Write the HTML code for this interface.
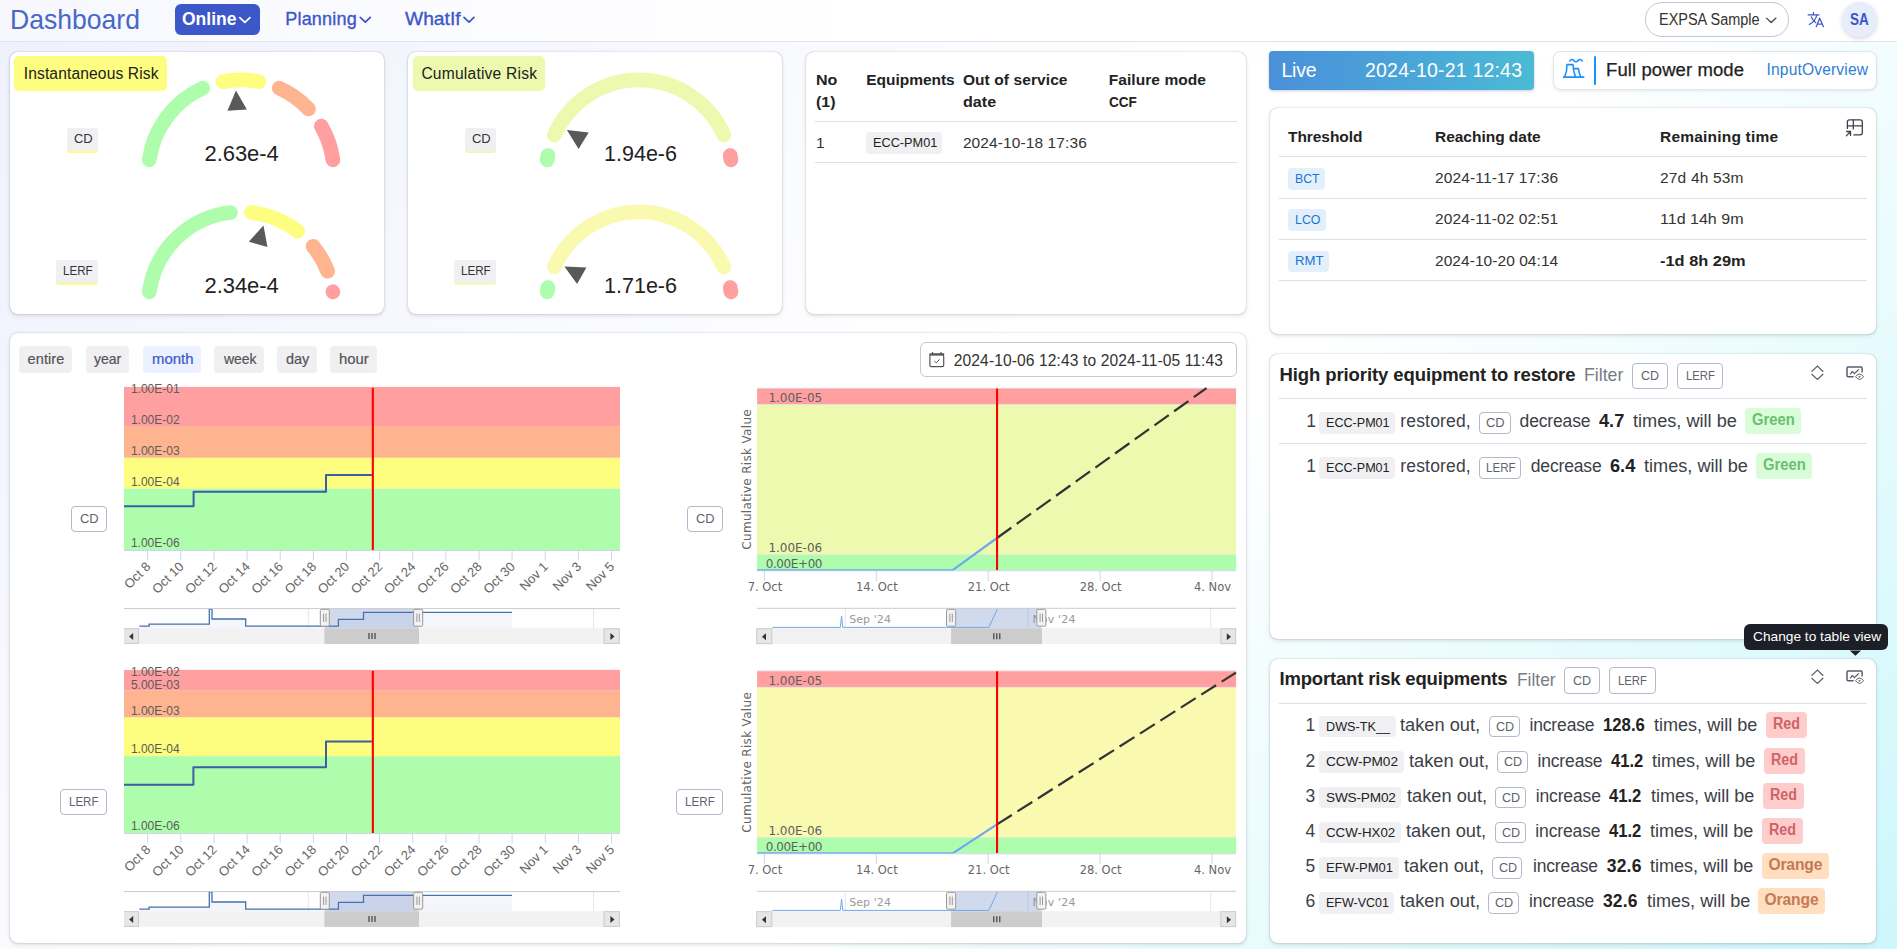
<!DOCTYPE html>
<html lang="en"><head><meta charset="utf-8"><title>Dashboard</title>
<style>
html,body{margin:0;padding:0}
body{width:1897px;height:949px;overflow:hidden;position:relative;font-family:"Liberation Sans",sans-serif;
background:linear-gradient(135deg,#eef1fd 0%,#ffffff 47%,#ffffff 58%,#cdf7fb 100%);color:#222}
.t{position:absolute;white-space:nowrap;margin:0;padding:0;font-weight:400;transform-origin:0 50%}
.b{position:absolute;box-sizing:border-box}
svg{position:absolute;overflow:visible}
.card{position:absolute;box-sizing:border-box;background:#fff;border-radius:8px;
box-shadow:0 0 1.5px rgba(30,30,50,.36),0 2px 4px rgba(30,30,50,.12)}
header{position:absolute;left:0;top:0;width:1897px;height:41px;border-bottom:1px solid #e1e4ee;
background:linear-gradient(90deg,#f7f8fe 0%,#ffffff 45%,#ffffff 100%)}
.tag{position:absolute;box-sizing:border-box;background:#f0f0f2;border-radius:4px}
.btn{position:absolute;box-sizing:border-box;background:#fff;border:1px solid #b4b8ca;border-radius:4px}
</style></head>
<body>
<header><h1 class="t" style="left:10.0px;top:0.6px;font-size:27.5px;line-height:38px;color:#4868c8;transform:scaleX(0.9662);">Dashboard</h1><div class="b" style="left:175.0px;top:4.0px;width:85.0px;height:30.5px;background:#3b57c8;border-radius:6px"></div><span class="t" style="left:181.9px;top:6.9px;font-size:18.02px;line-height:25px;color:#fff;font-weight:700;transform:scaleX(0.9721);">Online</span><svg style="left:237.0px;top:13.0px" width="15" height="13" viewBox="237 13 15 13"><path d="M239.8 17.7L244.9 22.4L249.9 17.7" fill="none" stroke="#fff" stroke-width="1.8" stroke-linecap="round" stroke-linejoin="round"/></svg><span class="t" style="left:285.2px;top:6.6px;font-size:18.02px;line-height:25px;color:#3b57c8;letter-spacing:0.211px;-webkit-text-stroke:0.35px #3b57c8;">Planning</span><svg style="left:358.0px;top:12.0px" width="15" height="14" viewBox="358 12 15 14"><path d="M360.3 17.4L365.3 22.1L370.3 17.4" fill="none" stroke="#3b57c8" stroke-width="1.8" stroke-linecap="round" stroke-linejoin="round"/></svg><span class="t" style="left:405.4px;top:6.6px;font-size:18.02px;line-height:25px;color:#3b57c8;transform:scaleX(1.0679);-webkit-text-stroke:0.35px #3b57c8;">WhatIf</span><svg style="left:462.0px;top:12.0px" width="14" height="14" viewBox="462 12 14 14"><path d="M464.0 17.4L469.0 22.1L474.0 17.4" fill="none" stroke="#3b57c8" stroke-width="1.8" stroke-linecap="round" stroke-linejoin="round"/></svg><div class="b" style="left:1645.0px;top:2.0px;width:144.2px;height:34.6px;border:1px solid #c3c6d4;border-radius:17px;background:#fff"></div><span class="t" style="left:1659.1px;top:8.5px;font-size:15.6px;line-height:22px;color:#333;transform:scaleX(0.9284);">EXPSA Sample</span><svg style="left:1764.0px;top:13.0px" width="14" height="13" viewBox="1764 13 14 13"><path d="M1766.5 18.1L1771.2 22.5L1776.0 18.1" fill="none" stroke="#444" stroke-width="1.3" stroke-linecap="round" stroke-linejoin="round"/></svg><svg style="left:1805.0px;top:10.0px" width="22" height="20" viewBox="1805 10 22 20"><g fill="none" stroke="#3b57c8" stroke-width="1.25" stroke-linecap="round" stroke-linejoin="round"><path d="M1808.1 14.8H1818.9M1813.4 12.5V14.8M1816.8 15C1816 19 1813 22.5 1809.3 24.5M1811.2 16.8C1812.2 19.2 1813.8 21.2 1815.8 22.7"/><path d="M1816.2 26.7L1819.7 18.2L1823.4 26.7M1817.4 24.2H1822"/></g></svg><div class="b" style="left:1842.0px;top:2.0px;width:34.6px;height:34.6px;background:#e8edfc;border-radius:50%;box-shadow:0 2px 4px rgba(40,50,90,.18)"></div><span class="t" style="left:1850.4px;top:8.7px;font-size:15.6px;line-height:22px;color:#3b57c8;font-weight:700;transform:scaleX(0.8675);">SA</span></header>
<section class="card" style="left:10px;top:51.7px;width:374px;height:262.1px;"><svg style="left:1.0px;top:1.3px" width="372" height="260" viewBox="11 53 372 260"><path d="M149.28 159.86A92.7 92.7 0 0 1 202.81 88.18" fill="none" stroke="#adfdad" stroke-width="14.7" stroke-linecap="round"/><path d="M222.94 81.70A92.7 92.7 0 0 1 258.95 81.63" fill="none" stroke="#fdfd7f" stroke-width="14.7" stroke-linecap="round"/><path d="M279.25 88.11A92.7 92.7 0 0 1 308.56 109.02" fill="none" stroke="#fdb48f" stroke-width="14.7" stroke-linecap="round"/><path d="M321.30 126.11A92.7 92.7 0 0 1 332.92 159.86" fill="none" stroke="#ff9f9f" stroke-width="14.7" stroke-linecap="round"/><path d="M235.94 90.56L246.86 109.61L227.49 110.83Z" fill="#595959"/><path d="M149.28 291.86A92.7 92.7 0 0 1 230.45 212.51" fill="none" stroke="#adfdad" stroke-width="14.7" stroke-linecap="round"/><path d="M251.43 212.48A92.7 92.7 0 0 1 297.66 231.15" fill="none" stroke="#fdfd7f" stroke-width="14.7" stroke-linecap="round"/><path d="M313.14 246.26A92.7 92.7 0 0 1 327.58 271.23" fill="none" stroke="#fdb48f" stroke-width="14.7" stroke-linecap="round"/><path d="M332.90 291.70A92.7 92.7 0 0 1 332.92 291.86" fill="none" stroke="#ff9f9f" stroke-width="14.7" stroke-linecap="round"/><path d="M263.48 225.51L267.45 247.10L248.78 241.82Z" fill="#595959"/></svg><div class="b" style="left:4.0px;top:4.1px;width:153.4px;height:35.1px;background:#fdfd7f;border-radius:5px"></div><h2 class="t" style="left:13.7px;top:10.9px;font-size:15.6px;line-height:22px;color:#222;letter-spacing:0.134px;">Instantaneous Risk</h2><div class="tag" style="left:57.2px;top:76.3px;width:30.6px;height:24.8px;border-bottom:2.5px solid #fdfd7f;border-radius:3px"></div><span class="t" style="left:63.5px;top:77.3px;font-size:13.65px;line-height:19px;color:#333;transform:scaleX(0.9491);">CD</span><div class="tag" style="left:46.1px;top:208.3px;width:41.7px;height:24.6px;border-bottom:2.5px solid #fdfd7f;border-radius:3px"></div><span class="t" style="left:53.0px;top:209.3px;font-size:13.65px;line-height:19px;color:#333;transform:scaleX(0.8516);">LERF</span><span class="t" style="left:194.6px;top:86.3px;font-size:22.0px;line-height:31px;color:#222;letter-spacing:-0.088px;">2.63e-4</span><span class="t" style="left:194.6px;top:218.3px;font-size:22.0px;line-height:31px;color:#222;letter-spacing:-0.088px;">2.34e-4</span></section>
<section class="card" style="left:408px;top:51.7px;width:374px;height:262.1px;"><svg style="left:1.0px;top:1.3px" width="372" height="260" viewBox="409 53 372 260"><path d="M547.28 159.86A92.7 92.7 0 0 1 547.98 155.55" fill="none" stroke="#adfdad" stroke-width="14.7" stroke-linecap="round"/><path d="M554.35 135.04A92.7 92.7 0 0 1 723.85 135.04" fill="none" stroke="#edf9ae" stroke-width="14.7" stroke-linecap="round"/><path d="M730.22 155.55A92.7 92.7 0 0 1 730.92 159.86" fill="none" stroke="#ff9f9f" stroke-width="14.7" stroke-linecap="round"/><path d="M566.9 129.9L588.7 132.4L578.6 148.9Z" fill="#595959"/><path d="M547.28 291.86A92.7 92.7 0 0 1 547.98 287.55" fill="none" stroke="#adfdad" stroke-width="14.7" stroke-linecap="round"/><path d="M554.35 267.04A92.7 92.7 0 0 1 723.85 267.04" fill="none" stroke="#f9f9b0" stroke-width="14.7" stroke-linecap="round"/><path d="M730.22 287.55A92.7 92.7 0 0 1 730.92 291.86" fill="none" stroke="#ff9f9f" stroke-width="14.7" stroke-linecap="round"/><path d="M564.4 266.6L586.4 267.4L577.1 284.0Z" fill="#595959"/></svg><div class="b" style="left:5.1px;top:4.1px;width:131.7px;height:35.0px;background:#edf9ae;border-radius:5px"></div><h2 class="t" style="left:13.4px;top:10.9px;font-size:15.6px;line-height:22px;color:#222;letter-spacing:0.210px;">Cumulative Risk</h2><div class="tag" style="left:57.1px;top:76.3px;width:30.9px;height:25.0px;border-bottom:2.5px solid #edf9ae;border-radius:3px"></div><span class="t" style="left:63.6px;top:77.3px;font-size:13.65px;line-height:19px;color:#333;transform:scaleX(0.9491);">CD</span><div class="tag" style="left:46.1px;top:208.3px;width:41.9px;height:25.0px;border-bottom:2.5px solid #f9f9b0;border-radius:3px"></div><span class="t" style="left:53.0px;top:209.3px;font-size:13.65px;line-height:19px;color:#333;transform:scaleX(0.8516);">LERF</span><span class="t" style="left:195.9px;top:86.3px;font-size:22.0px;line-height:31px;color:#222;transform:scaleX(0.9782);">1.94e-6</span><span class="t" style="left:195.9px;top:218.3px;font-size:22.0px;line-height:31px;color:#222;transform:scaleX(0.9782);">1.71e-6</span></section>
<section class="card" style="left:806px;top:51.7px;width:440.20000000000005px;height:262.1px;"><span class="t" style="left:9.9px;top:17.5px;font-size:15.5px;line-height:22px;color:#222;font-weight:700;transform:scaleX(1.0352);">No</span><span class="t" style="left:9.9px;top:39.2px;font-size:15.5px;line-height:22px;color:#222;font-weight:700;transform:scaleX(1.0289);">(1)</span><span class="t" style="left:60.3px;top:17.5px;font-size:15.5px;line-height:22px;color:#222;font-weight:700;letter-spacing:-0.034px;">Equipments</span><span class="t" style="left:156.9px;top:17.5px;font-size:15.5px;line-height:22px;color:#222;font-weight:700;letter-spacing:0.094px;">Out of service</span><span class="t" style="left:156.9px;top:39.2px;font-size:15.5px;line-height:22px;color:#222;font-weight:700;transform:scaleX(1.0384);">date</span><span class="t" style="left:302.7px;top:17.5px;font-size:15.5px;line-height:22px;color:#222;font-weight:700;letter-spacing:0.076px;">Failure mode</span><span class="t" style="left:302.7px;top:39.2px;font-size:15.5px;line-height:22px;color:#222;font-weight:700;transform:scaleX(0.8757);">CCF</span><div class="b" style="left:9.3px;top:69.4px;width:421.8px;height:1.0px;background:#dddee8"></div><span class="t" style="left:9.9px;top:79.9px;font-size:15.5px;line-height:22px;color:#333;">1</span><div class="tag" style="left:60.0px;top:80.3px;width:75.8px;height:21.7px;"></div><span class="t" style="left:66.7px;top:81.6px;font-size:13.65px;line-height:19px;color:#222;transform:scaleX(0.9321);">ECC-PM01</span><span class="t" style="left:156.9px;top:79.9px;font-size:15.5px;line-height:22px;color:#333;letter-spacing:0.101px;">2024-10-18 17:36</span><div class="b" style="left:9.3px;top:110.1px;width:421.8px;height:1.0px;background:#dddee8"></div></section>
<aside><div class="b" style="left:1269.0px;top:51.3px;width:264.8px;height:38.5px;background:linear-gradient(90deg,#4a90d9 0%,#4aa8d8 60%,#4bbbd4 100%);border-radius:4px;box-shadow:0 1px 3px rgba(30,60,120,.25)"></div><span class="t" style="left:1281.4px;top:56.5px;font-size:19.5px;line-height:27px;color:#fff;letter-spacing:-0.194px;">Live</span><span class="t" style="left:1365.0px;top:56.5px;font-size:19.5px;line-height:27px;color:#fff;letter-spacing:0.202px;">2024-10-21 12:43</span><div class="b" style="left:1552.6px;top:50.8px;width:324.4px;height:39.1px;background:#fff;border:1px solid #e3e5ee;border-radius:8px;box-shadow:0 1px 3px rgba(30,40,80,.10)"></div><svg style="left:1560.0px;top:55.0px" width="28" height="27" viewBox="1560 55 28 27"><g fill="none" stroke="#1890ff" stroke-width="1.55" stroke-linecap="round" stroke-linejoin="round"><path d="M1563.4 77.1H1583.8"/><path d="M1564.8 76.6Q1567.2 70.5 1567 64.6H1573Q1573.2 71 1575.4 76.6"/><path d="M1573.4 68.6H1578.4Q1578.8 73 1580.8 76.6"/><path d="M1569.8 61Q1571.6 58.4 1573.6 60.4Q1575.9 62.9 1578.2 60.4Q1580.3 58.4 1582.3 61"/></g></svg><div class="b" style="left:1594.1px;top:56.0px;width:1.9px;height:28.8px;background:#1890ff;border-radius:1px"></div><span class="t" style="left:1606.0px;top:57.2px;font-size:18.52px;line-height:26px;color:#222;letter-spacing:0.080px;-webkit-text-stroke:0.25px #222;">Full power mode</span><span class="t" style="left:1766.5px;top:58.8px;font-size:15.6px;line-height:22px;color:#2f80d2;letter-spacing:0.152px;">InputOverview</span><section class="card" style="left:1269.8px;top:108.4px;width:606.4000000000001px;height:225.79999999999998px;"><span class="t" style="left:18.2px;top:17.4px;font-size:15.5px;line-height:22px;color:#222;font-weight:700;letter-spacing:-0.053px;">Threshold</span><span class="t" style="left:165.2px;top:17.4px;font-size:15.5px;line-height:22px;color:#222;font-weight:700;letter-spacing:-0.021px;">Reaching date</span><span class="t" style="left:390.2px;top:17.4px;font-size:15.5px;line-height:22px;color:#222;font-weight:700;letter-spacing:0.206px;">Remaining time</span><svg style="left:574.2px;top:9.1px" width="22" height="22.0" viewBox="1844 117.5 22 22.0"><g transform="translate(0.0 0.0)" fill="none" stroke="#3c414e" stroke-width="1.3" stroke-linecap="round" stroke-linejoin="round"><path d="M1847.4 128.9V122.4Q1847.4 120.4 1849.4 120.4H1860.3Q1862.3 120.4 1862.3 122.4V133.3Q1862.3 135.3 1860.3 135.3H1853.8"/><path d="M1847.4 126.3H1862.3M1853.3 120.4V129.5"/><path d="M1846.3 136.4L1850.4 132.1M1846.6 132H1850.5V135.9"/></g></svg><div class="b" style="left:9.2px;top:47.5px;width:587.8px;height:1.0px;background:#dddee8"></div><div class="b" style="left:9.2px;top:89.5px;width:587.8px;height:1.0px;background:#dddee8"></div><div class="b" style="left:9.2px;top:130.5px;width:587.8px;height:1.0px;background:#dddee8"></div><div class="b" style="left:9.2px;top:171.4px;width:587.8px;height:1.0px;background:#dddee8"></div><div class="tag" style="left:18.1px;top:59.8px;width:36.9px;height:21.5px;background:#e3f0fc"></div><span class="t" style="left:24.8px;top:60.2px;font-size:13.65px;line-height:19px;color:#1976d2;transform:scaleX(0.8975);">BCT</span><span class="t" style="left:165.2px;top:58.4px;font-size:15.5px;line-height:22px;color:#333;letter-spacing:0.131px;">2024-11-17 17:36</span><span class="t" style="left:390.2px;top:58.4px;font-size:15.5px;line-height:22px;color:#333;letter-spacing:0.181px;">27d 4h 53m</span><div class="tag" style="left:18.1px;top:101.1px;width:37.9px;height:21.1px;background:#e3f0fc"></div><span class="t" style="left:24.8px;top:101.5px;font-size:13.65px;line-height:19px;color:#1976d2;transform:scaleX(0.9087);">LCO</span><span class="t" style="left:165.2px;top:99.7px;font-size:15.5px;line-height:22px;color:#333;letter-spacing:0.131px;">2024-11-02 02:51</span><span class="t" style="left:390.2px;top:99.7px;font-size:15.5px;line-height:22px;color:#333;transform:scaleX(1.0345);">11d 14h 9m</span><div class="tag" style="left:18.1px;top:142.8px;width:40.9px;height:20.6px;background:#e3f0fc"></div><span class="t" style="left:24.8px;top:143.1px;font-size:13.65px;line-height:19px;color:#1976d2;transform:scaleX(0.9646);">RMT</span><span class="t" style="left:165.2px;top:141.3px;font-size:15.5px;line-height:22px;color:#333;letter-spacing:0.054px;">2024-10-20 04:14</span><span class="t" style="left:390.2px;top:141.3px;font-size:15.5px;line-height:22px;color:#222;font-weight:700;transform:scaleX(1.0570);">-1d 8h 29m</span></section><section class="card" style="left:1269.8px;top:353.5px;width:606.4000000000001px;height:285.6px;"><h2 class="t" style="left:9.7px;top:8.4px;font-size:18.5px;line-height:26px;color:#222;font-weight:700;letter-spacing:-0.094px;">High priority equipment to restore</h2><span class="t" style="left:314.7px;top:8.9px;font-size:18.4px;line-height:26px;color:#787c85;transform:scaleX(0.9615);">Filter</span><div class="btn" style="left:362.4px;top:9.6px;width:35.6px;height:26.0px;"></div><span class="t" style="left:371.7px;top:12.7px;font-size:13.65px;line-height:19px;color:#5f636c;transform:scaleX(0.9136);">CD</span><div class="btn" style="left:407.3px;top:9.6px;width:45.6px;height:26.0px;"></div><span class="t" style="left:416.1px;top:12.7px;font-size:13.65px;line-height:19px;color:#5f636c;transform:scaleX(0.8315);">LERF</span><svg style="left:539.7px;top:9.6px" width="17.0" height="20.0" viewBox="1809.5 363.1 17.0 20.0"><g fill="none" stroke="#585d68" stroke-width="1.25" stroke-linecap="square" stroke-linejoin="miter"><path d="M1812.5 371.3L1817.9 366.1L1823.3 371.3M1812.5 374.5L1817.9 379.5L1823.3 374.5"/></g></svg><svg style="left:575.2px;top:11.3px" width="22" height="18.0" viewBox="1845 364.8 22 18.0"><g transform="translate(0.0 0.0)" fill="none" stroke="#585d68" stroke-linecap="butt" stroke-linejoin="round"><path d="M1853.6 376.6H1848Q1847 376.6 1847 375.6V367.8Q1847 366.8 1848 366.8H1861.1Q1862.1 366.8 1862.1 367.8V372.4" stroke-width="1.5"/><path d="M1850.1 374.1L1852.4 371.3L1854.5 373.4L1858.7 369.3" stroke-width="1.2"/><path d="M1855.5 376.5Q1859.5 371.2 1863.6 376.5Q1859.5 381.8 1855.5 376.5Z" stroke-width="1"/><circle cx="1859.5" cy="376.5" r="0.9" fill="#585d68" stroke="none"/></g></svg><div class="b" style="left:9.4px;top:44.7px;width:587.8px;height:1.0px;background:#dddee8"></div><span class="t" style="left:36.4px;top:55.7px;font-size:17.5px;line-height:24px;color:#3d4047;">1</span><div class="tag" style="left:49.2px;top:58.6px;width:75.9px;height:21.9px;"></div><span class="t" style="left:56.4px;top:59.4px;font-size:13.65px;line-height:19px;color:#222;transform:scaleX(0.9219);">ECC-PM01</span><span class="t" style="left:130.5px;top:55.7px;font-size:17.5px;line-height:24px;color:#3d4047;letter-spacing:0.167px;">restored,</span><div class="btn" style="left:209.4px;top:58.6px;width:31.8px;height:21.9px;"></div><span class="t" style="left:216.5px;top:59.4px;font-size:13.65px;line-height:19px;color:#5f636c;transform:scaleX(0.9440);">CD</span><span class="t" style="left:249.8px;top:55.7px;font-size:17.5px;line-height:24px;color:#3d4047;letter-spacing:-0.157px;">decrease</span><span class="t" style="left:329.1px;top:55.7px;font-size:17.5px;line-height:24px;color:#222;font-weight:700;transform:scaleX(1.0399);">4.7</span><span class="t" style="left:362.8px;top:55.7px;font-size:17.5px;line-height:24px;color:#3d4047;transform:scaleX(1.0372);">times, will be</span><div class="b" style="left:475.1px;top:54.5px;width:56.0px;height:26.4px;background:#d8fdd8;border-radius:4px"></div><span class="t" style="left:481.8px;top:55.4px;font-size:15.6px;line-height:22px;color:#6cbf72;font-weight:700;transform:scaleX(0.9495);">Green</span><span class="t" style="left:36.4px;top:100.5px;font-size:17.5px;line-height:24px;color:#3d4047;">1</span><div class="tag" style="left:49.2px;top:103.4px;width:75.9px;height:21.9px;"></div><span class="t" style="left:56.4px;top:104.2px;font-size:13.65px;line-height:19px;color:#222;transform:scaleX(0.9219);">ECC-PM01</span><span class="t" style="left:130.5px;top:100.5px;font-size:17.5px;line-height:24px;color:#3d4047;letter-spacing:0.167px;">restored,</span><div class="btn" style="left:209.4px;top:103.4px;width:41.5px;height:21.9px;"></div><span class="t" style="left:215.8px;top:104.2px;font-size:13.65px;line-height:19px;color:#5f636c;transform:scaleX(0.8516);">LERF</span><span class="t" style="left:261.0px;top:100.5px;font-size:17.5px;line-height:24px;color:#3d4047;letter-spacing:-0.157px;">decrease</span><span class="t" style="left:340.2px;top:100.5px;font-size:17.5px;line-height:24px;color:#222;font-weight:700;transform:scaleX(1.0399);">6.4</span><span class="t" style="left:373.9px;top:100.5px;font-size:17.5px;line-height:24px;color:#3d4047;transform:scaleX(1.0372);">times, will be</span><div class="b" style="left:486.2px;top:99.3px;width:56.0px;height:26.4px;background:#d8fdd8;border-radius:4px"></div><span class="t" style="left:492.9px;top:100.2px;font-size:15.6px;line-height:22px;color:#6cbf72;font-weight:700;transform:scaleX(0.9495);">Green</span><div class="b" style="left:9.4px;top:89.5px;width:587.8px;height:1.0px;background:#dddee8"></div></section><section class="card" style="left:1269.8px;top:658.8px;width:606.4000000000001px;height:284.4000000000001px;"><h2 class="t" style="left:9.7px;top:7.4px;font-size:18.5px;line-height:26px;color:#222;font-weight:700;letter-spacing:-0.176px;">Important risk equipments</h2><span class="t" style="left:247.6px;top:7.9px;font-size:18.4px;line-height:26px;color:#787c85;transform:scaleX(0.9443);">Filter</span><div class="btn" style="left:294.4px;top:8.7px;width:35.5px;height:26.1px;"></div><span class="t" style="left:303.7px;top:11.8px;font-size:13.65px;line-height:19px;color:#5f636c;transform:scaleX(0.9136);">CD</span><div class="btn" style="left:339.5px;top:8.7px;width:46.3px;height:26.1px;"></div><span class="t" style="left:348.6px;top:11.8px;font-size:13.65px;line-height:19px;color:#5f636c;transform:scaleX(0.8315);">LERF</span><svg style="left:539.7px;top:8.5px" width="17.0" height="20.0" viewBox="1809.5 667.3 17.0 20.0"><g fill="none" stroke="#585d68" stroke-width="1.25" stroke-linecap="square" stroke-linejoin="miter"><path d="M1812.5 675.5L1817.9 670.3L1823.3 675.5M1812.5 678.7L1817.9 683.7L1823.3 678.7"/></g></svg><svg style="left:575.2px;top:10.7px" width="22" height="18.0" viewBox="1845 669.5 22 18.0"><g transform="translate(0.0 304.7)" fill="none" stroke="#585d68" stroke-linecap="butt" stroke-linejoin="round"><path d="M1853.6 376.6H1848Q1847 376.6 1847 375.6V367.8Q1847 366.8 1848 366.8H1861.1Q1862.1 366.8 1862.1 367.8V372.4" stroke-width="1.5"/><path d="M1850.1 374.1L1852.4 371.3L1854.5 373.4L1858.7 369.3" stroke-width="1.2"/><path d="M1855.5 376.5Q1859.5 371.2 1863.6 376.5Q1859.5 381.8 1855.5 376.5Z" stroke-width="1"/><circle cx="1859.5" cy="376.5" r="0.9" fill="#585d68" stroke="none"/></g></svg><div class="b" style="left:9.4px;top:44.6px;width:587.8px;height:1.0px;background:#dddee8"></div><span class="t" style="left:35.6px;top:54.5px;font-size:17.5px;line-height:24px;color:#3d4047;">1</span><div class="tag" style="left:49.2px;top:57.3px;width:76.6px;height:21.4px;"></div><span class="t" style="left:56.2px;top:58.1px;font-size:13.65px;line-height:19px;color:#222;transform:scaleX(0.9277);">DWS-TK__</span><span class="t" style="left:130.6px;top:54.5px;font-size:17.5px;line-height:24px;color:#3d4047;transform:scaleX(1.0420);">taken out,</span><div class="btn" style="left:219.4px;top:57.3px;width:30.5px;height:21.4px;"></div><span class="t" style="left:226.1px;top:58.1px;font-size:13.65px;line-height:19px;color:#5f636c;transform:scaleX(0.9237);">CD</span><span class="t" style="left:259.6px;top:54.5px;font-size:17.5px;line-height:24px;color:#3d4047;letter-spacing:-0.137px;">increase</span><span class="t" style="left:333.5px;top:54.5px;font-size:17.5px;line-height:24px;color:#222;font-weight:700;transform:scaleX(0.9567);">128.6</span><span class="t" style="left:384.4px;top:54.5px;font-size:17.5px;line-height:24px;color:#3d4047;transform:scaleX(1.0312);">times, will be</span><div class="b" style="left:496.1px;top:53.1px;width:40.8px;height:26.4px;background:#ffcccc;border-radius:4px"></div><span class="t" style="left:503.4px;top:54.0px;font-size:15.6px;line-height:22px;color:#cc6468;font-weight:700;transform:scaleX(0.9162);">Red</span><span class="t" style="left:35.6px;top:90.5px;font-size:17.5px;line-height:24px;color:#3d4047;">2</span><div class="tag" style="left:49.2px;top:92.5px;width:84.6px;height:21.4px;"></div><span class="t" style="left:56.2px;top:93.3px;font-size:13.65px;line-height:19px;color:#222;letter-spacing:-0.074px;">CCW-PM02</span><span class="t" style="left:139.0px;top:90.5px;font-size:17.5px;line-height:24px;color:#3d4047;transform:scaleX(1.0420);">taken out,</span><div class="btn" style="left:227.4px;top:92.5px;width:30.5px;height:21.4px;"></div><span class="t" style="left:234.1px;top:93.3px;font-size:13.65px;line-height:19px;color:#5f636c;transform:scaleX(0.9237);">CD</span><span class="t" style="left:267.6px;top:90.5px;font-size:17.5px;line-height:24px;color:#3d4047;letter-spacing:-0.137px;">increase</span><span class="t" style="left:341.4px;top:90.5px;font-size:17.5px;line-height:24px;color:#222;font-weight:700;transform:scaleX(0.9483);">41.2</span><span class="t" style="left:382.7px;top:90.5px;font-size:17.5px;line-height:24px;color:#3d4047;transform:scaleX(1.0312);">times, will be</span><div class="b" style="left:494.4px;top:89.1px;width:40.8px;height:26.4px;background:#ffcccc;border-radius:4px"></div><span class="t" style="left:501.7px;top:90.0px;font-size:15.6px;line-height:22px;color:#cc6468;font-weight:700;transform:scaleX(0.9162);">Red</span><span class="t" style="left:35.6px;top:125.5px;font-size:17.5px;line-height:24px;color:#3d4047;">3</span><div class="tag" style="left:49.2px;top:128.2px;width:82.5px;height:21.4px;"></div><span class="t" style="left:56.2px;top:129.0px;font-size:13.65px;line-height:19px;color:#222;letter-spacing:-0.193px;">SWS-PM02</span><span class="t" style="left:137.2px;top:125.5px;font-size:17.5px;line-height:24px;color:#3d4047;transform:scaleX(1.0420);">taken out,</span><div class="btn" style="left:225.3px;top:128.2px;width:30.5px;height:21.4px;"></div><span class="t" style="left:232.0px;top:129.0px;font-size:13.65px;line-height:19px;color:#5f636c;transform:scaleX(0.9237);">CD</span><span class="t" style="left:265.9px;top:125.5px;font-size:17.5px;line-height:24px;color:#3d4047;letter-spacing:-0.137px;">increase</span><span class="t" style="left:339.7px;top:125.5px;font-size:17.5px;line-height:24px;color:#222;font-weight:700;transform:scaleX(0.9483);">41.2</span><span class="t" style="left:381.0px;top:125.5px;font-size:17.5px;line-height:24px;color:#3d4047;transform:scaleX(1.0312);">times, will be</span><div class="b" style="left:493.0px;top:124.1px;width:40.8px;height:26.4px;background:#ffcccc;border-radius:4px"></div><span class="t" style="left:500.3px;top:125.0px;font-size:15.6px;line-height:22px;color:#cc6468;font-weight:700;transform:scaleX(0.9162);">Red</span><span class="t" style="left:35.6px;top:160.6px;font-size:17.5px;line-height:24px;color:#3d4047;">4</span><div class="tag" style="left:49.2px;top:163.3px;width:81.8px;height:21.4px;"></div><span class="t" style="left:56.2px;top:164.1px;font-size:13.65px;line-height:19px;color:#222;transform:scaleX(0.9746);">CCW-HX02</span><span class="t" style="left:136.5px;top:160.6px;font-size:17.5px;line-height:24px;color:#3d4047;transform:scaleX(1.0420);">taken out,</span><div class="btn" style="left:225.3px;top:163.3px;width:30.5px;height:21.4px;"></div><span class="t" style="left:232.0px;top:164.1px;font-size:13.65px;line-height:19px;color:#5f636c;transform:scaleX(0.9237);">CD</span><span class="t" style="left:265.5px;top:160.6px;font-size:17.5px;line-height:24px;color:#3d4047;letter-spacing:-0.137px;">increase</span><span class="t" style="left:339.4px;top:160.6px;font-size:17.5px;line-height:24px;color:#222;font-weight:700;transform:scaleX(0.9483);">41.2</span><span class="t" style="left:380.6px;top:160.6px;font-size:17.5px;line-height:24px;color:#3d4047;transform:scaleX(1.0312);">times, will be</span><div class="b" style="left:492.3px;top:159.2px;width:40.8px;height:26.4px;background:#ffcccc;border-radius:4px"></div><span class="t" style="left:499.6px;top:160.1px;font-size:15.6px;line-height:22px;color:#cc6468;font-weight:700;transform:scaleX(0.9162);">Red</span><span class="t" style="left:35.6px;top:195.6px;font-size:17.5px;line-height:24px;color:#3d4047;">5</span><div class="tag" style="left:49.2px;top:198.4px;width:79.7px;height:21.4px;"></div><span class="t" style="left:56.2px;top:199.2px;font-size:13.65px;line-height:19px;color:#222;transform:scaleX(0.9552);">EFW-PM01</span><span class="t" style="left:134.1px;top:195.6px;font-size:17.5px;line-height:24px;color:#3d4047;transform:scaleX(1.0420);">taken out,</span><div class="btn" style="left:222.2px;top:198.4px;width:30.5px;height:21.4px;"></div><span class="t" style="left:228.9px;top:199.2px;font-size:13.65px;line-height:19px;color:#5f636c;transform:scaleX(0.9237);">CD</span><span class="t" style="left:263.1px;top:195.6px;font-size:17.5px;line-height:24px;color:#3d4047;letter-spacing:-0.137px;">increase</span><span class="t" style="left:336.9px;top:195.6px;font-size:17.5px;line-height:24px;color:#222;font-weight:700;letter-spacing:0.213px;">32.6</span><span class="t" style="left:380.3px;top:195.6px;font-size:17.5px;line-height:24px;color:#3d4047;transform:scaleX(1.0312);">times, will be</span><div class="b" style="left:492.3px;top:194.2px;width:66.9px;height:26.4px;background:#ffdfbf;border-radius:4px"></div><span class="t" style="left:498.6px;top:195.1px;font-size:15.6px;line-height:22px;color:#c47a55;font-weight:700;letter-spacing:-0.119px;">Orange</span><span class="t" style="left:35.6px;top:230.6px;font-size:17.5px;line-height:24px;color:#3d4047;">6</span><div class="tag" style="left:49.2px;top:233.4px;width:75.5px;height:21.4px;"></div><span class="t" style="left:56.2px;top:234.2px;font-size:13.65px;line-height:19px;color:#222;transform:scaleX(0.9151);">EFW-VC01</span><span class="t" style="left:130.3px;top:230.6px;font-size:17.5px;line-height:24px;color:#3d4047;transform:scaleX(1.0420);">taken out,</span><div class="btn" style="left:218.4px;top:233.4px;width:30.5px;height:21.4px;"></div><span class="t" style="left:225.1px;top:234.2px;font-size:13.65px;line-height:19px;color:#5f636c;transform:scaleX(0.9237);">CD</span><span class="t" style="left:259.3px;top:230.6px;font-size:17.5px;line-height:24px;color:#3d4047;letter-spacing:-0.137px;">increase</span><span class="t" style="left:333.1px;top:230.6px;font-size:17.5px;line-height:24px;color:#222;font-weight:700;letter-spacing:0.213px;">32.6</span><span class="t" style="left:376.8px;top:230.6px;font-size:17.5px;line-height:24px;color:#3d4047;transform:scaleX(1.0312);">times, will be</span><div class="b" style="left:488.5px;top:229.2px;width:66.9px;height:26.4px;background:#ffdfbf;border-radius:4px"></div><span class="t" style="left:494.8px;top:230.1px;font-size:15.6px;line-height:22px;color:#c47a55;font-weight:700;letter-spacing:-0.119px;">Orange</span></section><div class="b" style="left:1743.9px;top:624.2px;width:144.0px;height:25.6px;background:#1c1f27;border-radius:6px"></div><svg style="left:1848.0px;top:649.0px" width="15" height="8" viewBox="1848 649 15 8"><path d="M1849.7 650.6H1861.1L1855.4 655.8Z" fill="#1c1f27"/></svg><span class="t" style="left:1752.7px;top:628.1px;font-size:12.67px;line-height:18px;color:#fff;transform:scaleX(1.0837);">Change to table view</span></aside>
<main class="card" style="left:10px;top:332.7px;width:1236.2px;height:610.2px;"><div class="tag" style="left:9.0px;top:13.5px;width:52.9px;height:26.6px;"></div><span class="t" style="left:17.6px;top:16.5px;font-size:14.5px;line-height:20px;color:#555;letter-spacing:0.084px;-webkit-text-stroke:0.2px #555;">entire</span><div class="tag" style="left:76.0px;top:13.5px;width:42.8px;height:26.6px;"></div><span class="t" style="left:84.3px;top:16.5px;font-size:14.5px;line-height:20px;color:#555;transform:scaleX(0.9674);-webkit-text-stroke:0.2px #555;">year</span><div class="tag" style="left:133.2px;top:13.5px;width:57.5px;height:26.6px;background:#ebf1fe"></div><span class="t" style="left:141.8px;top:16.5px;font-size:14.5px;line-height:20px;color:#3b57c8;transform:scaleX(1.0295);-webkit-text-stroke:0.2px #3b57c8;">month</span><div class="tag" style="left:204.0px;top:13.5px;width:49.8px;height:26.6px;"></div><span class="t" style="left:213.5px;top:16.5px;font-size:14.5px;line-height:20px;color:#555;transform:scaleX(0.9628);-webkit-text-stroke:0.2px #555;">week</span><div class="tag" style="left:267.1px;top:13.5px;width:39.8px;height:26.6px;"></div><span class="t" style="left:276.1px;top:16.5px;font-size:14.5px;line-height:20px;color:#555;letter-spacing:-0.095px;-webkit-text-stroke:0.2px #555;">day</span><div class="tag" style="left:320.0px;top:13.5px;width:46.8px;height:26.6px;"></div><span class="t" style="left:329.1px;top:16.5px;font-size:14.5px;line-height:20px;color:#555;transform:scaleX(1.0265);-webkit-text-stroke:0.2px #555;">hour</span><div class="b" style="left:910.2px;top:9.7px;width:316.4px;height:35.0px;border:1px solid #c6c8d4;border-radius:6px;background:#fff"></div><svg style="left:917.0px;top:17.3px" width="20" height="19" viewBox="927 350 20 19"><g fill="none" stroke="#555" stroke-width="1.2" stroke-linecap="round" stroke-linejoin="round"><path d="M931.2 354.9H942.4Q943.7 354.9 943.7 356.2V365.3Q943.7 366.6 942.4 366.6H931.2Q929.9 366.6 929.9 365.3V356.2Q929.9 354.9 931.2 354.9Z"/><path d="M930.2 354.3H943.4" stroke-width="2"/><path d="M932.6 352.6V354M941 352.6V354" stroke-width="1.4"/><path d="M934.6 361.2L936.3 362.8L939.3 359.6" stroke-width="1"/></g></svg><span class="t" style="left:943.8px;top:17.0px;font-size:15.6px;line-height:22px;color:#333;letter-spacing:0.103px;">2024-10-06 12:43 to 2024-11-05 11:43</span><svg style="left:100.0px;top:47.3px" width="520" height="270" viewBox="110 380 520 270"><rect x="124.0" y="386.9" width="496.0" height="39.9" fill="#ff9f9f"/><rect x="124.0" y="426.8" width="496.0" height="31.0" fill="#fdb48f"/><rect x="124.0" y="457.8" width="496.0" height="30.8" fill="#fdfd7f"/><rect x="124.0" y="488.6" width="496.0" height="61.4" fill="#adfdad"/><text x="130.9" y="392.9" font-family="Liberation Sans, sans-serif" font-size="12" fill="#5c5c5c">1.00E-01</text><text x="130.9" y="423.9" font-family="Liberation Sans, sans-serif" font-size="12" fill="#5c5c5c">1.00E-02</text><text x="130.9" y="454.9" font-family="Liberation Sans, sans-serif" font-size="12" fill="#5c5c5c">1.00E-03</text><text x="130.9" y="485.7" font-family="Liberation Sans, sans-serif" font-size="12" fill="#5c5c5c">1.00E-04</text><text x="130.9" y="547.2" font-family="Liberation Sans, sans-serif" font-size="12" fill="#5c5c5c">1.00E-06</text><path d="M124.0 550.5H620.0" stroke="#ccd6eb" stroke-width="1" fill="none"/><text x="151.4" y="567.4" font-family="Liberation Sans, sans-serif" font-size="13" fill="#666" text-anchor="end" transform="rotate(-45 151.4 567.4)">Oct 8</text><text x="184.5" y="567.4" font-family="Liberation Sans, sans-serif" font-size="13" fill="#666" text-anchor="end" transform="rotate(-45 184.5 567.4)">Oct 10</text><text x="217.7" y="567.4" font-family="Liberation Sans, sans-serif" font-size="13" fill="#666" text-anchor="end" transform="rotate(-45 217.7 567.4)">Oct 12</text><text x="250.8" y="567.4" font-family="Liberation Sans, sans-serif" font-size="13" fill="#666" text-anchor="end" transform="rotate(-45 250.8 567.4)">Oct 14</text><text x="283.9" y="567.4" font-family="Liberation Sans, sans-serif" font-size="13" fill="#666" text-anchor="end" transform="rotate(-45 283.9 567.4)">Oct 16</text><text x="317.1" y="567.4" font-family="Liberation Sans, sans-serif" font-size="13" fill="#666" text-anchor="end" transform="rotate(-45 317.1 567.4)">Oct 18</text><text x="350.2" y="567.4" font-family="Liberation Sans, sans-serif" font-size="13" fill="#666" text-anchor="end" transform="rotate(-45 350.2 567.4)">Oct 20</text><text x="383.3" y="567.4" font-family="Liberation Sans, sans-serif" font-size="13" fill="#666" text-anchor="end" transform="rotate(-45 383.3 567.4)">Oct 22</text><text x="416.4" y="567.4" font-family="Liberation Sans, sans-serif" font-size="13" fill="#666" text-anchor="end" transform="rotate(-45 416.4 567.4)">Oct 24</text><text x="449.6" y="567.4" font-family="Liberation Sans, sans-serif" font-size="13" fill="#666" text-anchor="end" transform="rotate(-45 449.6 567.4)">Oct 26</text><text x="482.7" y="567.4" font-family="Liberation Sans, sans-serif" font-size="13" fill="#666" text-anchor="end" transform="rotate(-45 482.7 567.4)">Oct 28</text><text x="515.8" y="567.4" font-family="Liberation Sans, sans-serif" font-size="13" fill="#666" text-anchor="end" transform="rotate(-45 515.8 567.4)">Oct 30</text><text x="549.0" y="567.4" font-family="Liberation Sans, sans-serif" font-size="13" fill="#666" text-anchor="end" transform="rotate(-45 549.0 567.4)">Nov 1</text><text x="582.1" y="567.4" font-family="Liberation Sans, sans-serif" font-size="13" fill="#666" text-anchor="end" transform="rotate(-45 582.1 567.4)">Nov 3</text><text x="615.2" y="567.4" font-family="Liberation Sans, sans-serif" font-size="13" fill="#666" text-anchor="end" transform="rotate(-45 615.2 567.4)">Nov 5</text><path d="M147.7 550.0V560.4M180.8 550.0V560.4M214.0 550.0V560.4M247.1 550.0V560.4M280.2 550.0V560.4M313.4 550.0V560.4M346.5 550.0V560.4M379.6 550.0V560.4M412.7 550.0V560.4M445.9 550.0V560.4M479.0 550.0V560.4M512.1 550.0V560.4M545.3 550.0V560.4M578.4 550.0V560.4M611.5 550.0V560.4" stroke="#ccd6eb" stroke-width="1" fill="none"/><path d="M124 506.3H193.6V491.7H326V474.9H372.2" stroke="#3a5ea3" stroke-width="2" fill="none" stroke-linejoin="round"/><rect x="371.8" y="387.9" width="2.1" height="162.1" fill="#ff0000"/><path d="M139.4 626.2H149.1V624.1H209.3V609.2H212V619.0H245.7V626.2H338.4V619.4H363.5V612.4H512V628.1H139.4Z" fill="#f4f6fb"/><path d="M308.3 608.3V628.1M593.5 608.3V628.1" stroke="#e6e6e6" stroke-width="1" fill="none"/><rect x="324.6" y="608.3" width="93.6" height="19.8" fill="rgba(102,133,194,0.3)"/><path d="M139.4 626.2H149.1V624.1H209.3V609.2H212V619.0H245.7V626.2H338.4V619.4H363.5V612.4H512" stroke="#4572ae" stroke-width="1.3" fill="none"/><path d="M124.0 608.6H620.0" stroke="#cccccc" stroke-width="1" fill="none"/><rect x="320.3" y="609.3" width="9.0" height="16.9" rx="1.2" fill="#f2f2f2" stroke="#999" stroke-width="1"/><path d="M323.6 613.6V621.9M326.0 613.6V621.9" stroke="#999" stroke-width="1" fill="none"/><rect x="413.6" y="609.3" width="9.1" height="16.9" rx="1.2" fill="#f2f2f2" stroke="#999" stroke-width="1"/><path d="M416.9 613.6V621.9M419.3 613.6V621.9" stroke="#999" stroke-width="1" fill="none"/><rect x="124" y="628.2" width="496.0" height="15.7" fill="#f2f2f2"/><rect x="324.4" y="628.2" width="94.6" height="15.7" fill="#cccccc"/><path d="M369.0 633.0V639.0M372.0 633.0V639.0M375.0 633.0V639.0" stroke="#333" stroke-width="1.1" fill="none"/><rect x="124.0" y="628.2" width="15.0" height="15.7" fill="#e6e6e6"/><path d="M124.0 628.7H138.5V643.4H124.0" stroke="#cccccc" stroke-width="1" fill="none"/><path d="M133.2 633.0V640.0L129.1 636.5Z" fill="#333"/><rect x="603.6" y="628.2" width="16.3" height="15.7" fill="#e6e6e6"/><rect x="604.1" y="628.7" width="15.3" height="14.7" stroke="#cccccc" stroke-width="1" fill="none"/><path d="M610.4 633.0V640.0L614.5 636.5Z" fill="#333"/></svg><svg style="left:100.0px;top:330.3px" width="520" height="270" viewBox="110 663 520 270"><rect x="124.0" y="669.9" width="496.0" height="20.8" fill="#ff9f9f"/><rect x="124.0" y="690.7" width="496.0" height="26.8" fill="#fdb48f"/><rect x="124.0" y="717.5" width="496.0" height="38.7" fill="#fdfd7f"/><rect x="124.0" y="756.2" width="496.0" height="76.8" fill="#adfdad"/><text x="130.9" y="676.1" font-family="Liberation Sans, sans-serif" font-size="12" fill="#5c5c5c">1.00E-02</text><text x="130.9" y="689.0" font-family="Liberation Sans, sans-serif" font-size="12" fill="#5c5c5c">5.00E-03</text><text x="130.9" y="715.2" font-family="Liberation Sans, sans-serif" font-size="12" fill="#5c5c5c">1.00E-03</text><text x="130.9" y="753.1" font-family="Liberation Sans, sans-serif" font-size="12" fill="#5c5c5c">1.00E-04</text><text x="130.9" y="830.0" font-family="Liberation Sans, sans-serif" font-size="12" fill="#5c5c5c">1.00E-06</text><path d="M124.0 833.5H620.0" stroke="#ccd6eb" stroke-width="1" fill="none"/><text x="151.4" y="850.4" font-family="Liberation Sans, sans-serif" font-size="13" fill="#666" text-anchor="end" transform="rotate(-45 151.4 850.4)">Oct 8</text><text x="184.5" y="850.4" font-family="Liberation Sans, sans-serif" font-size="13" fill="#666" text-anchor="end" transform="rotate(-45 184.5 850.4)">Oct 10</text><text x="217.7" y="850.4" font-family="Liberation Sans, sans-serif" font-size="13" fill="#666" text-anchor="end" transform="rotate(-45 217.7 850.4)">Oct 12</text><text x="250.8" y="850.4" font-family="Liberation Sans, sans-serif" font-size="13" fill="#666" text-anchor="end" transform="rotate(-45 250.8 850.4)">Oct 14</text><text x="283.9" y="850.4" font-family="Liberation Sans, sans-serif" font-size="13" fill="#666" text-anchor="end" transform="rotate(-45 283.9 850.4)">Oct 16</text><text x="317.1" y="850.4" font-family="Liberation Sans, sans-serif" font-size="13" fill="#666" text-anchor="end" transform="rotate(-45 317.1 850.4)">Oct 18</text><text x="350.2" y="850.4" font-family="Liberation Sans, sans-serif" font-size="13" fill="#666" text-anchor="end" transform="rotate(-45 350.2 850.4)">Oct 20</text><text x="383.3" y="850.4" font-family="Liberation Sans, sans-serif" font-size="13" fill="#666" text-anchor="end" transform="rotate(-45 383.3 850.4)">Oct 22</text><text x="416.4" y="850.4" font-family="Liberation Sans, sans-serif" font-size="13" fill="#666" text-anchor="end" transform="rotate(-45 416.4 850.4)">Oct 24</text><text x="449.6" y="850.4" font-family="Liberation Sans, sans-serif" font-size="13" fill="#666" text-anchor="end" transform="rotate(-45 449.6 850.4)">Oct 26</text><text x="482.7" y="850.4" font-family="Liberation Sans, sans-serif" font-size="13" fill="#666" text-anchor="end" transform="rotate(-45 482.7 850.4)">Oct 28</text><text x="515.8" y="850.4" font-family="Liberation Sans, sans-serif" font-size="13" fill="#666" text-anchor="end" transform="rotate(-45 515.8 850.4)">Oct 30</text><text x="549.0" y="850.4" font-family="Liberation Sans, sans-serif" font-size="13" fill="#666" text-anchor="end" transform="rotate(-45 549.0 850.4)">Nov 1</text><text x="582.1" y="850.4" font-family="Liberation Sans, sans-serif" font-size="13" fill="#666" text-anchor="end" transform="rotate(-45 582.1 850.4)">Nov 3</text><text x="615.2" y="850.4" font-family="Liberation Sans, sans-serif" font-size="13" fill="#666" text-anchor="end" transform="rotate(-45 615.2 850.4)">Nov 5</text><path d="M147.7 833.0V843.4M180.8 833.0V843.4M214.0 833.0V843.4M247.1 833.0V843.4M280.2 833.0V843.4M313.4 833.0V843.4M346.5 833.0V843.4M379.6 833.0V843.4M412.7 833.0V843.4M445.9 833.0V843.4M479.0 833.0V843.4M512.1 833.0V843.4M545.3 833.0V843.4M578.4 833.0V843.4M611.5 833.0V843.4" stroke="#ccd6eb" stroke-width="1" fill="none"/><path d="M124 784.7H193.4V767.2H326V741.6H372.2" stroke="#3a5ea3" stroke-width="2" fill="none" stroke-linejoin="round"/><rect x="371.8" y="670.9" width="2.1" height="162.1" fill="#ff0000"/><path d="M139.4 909.2H149.1V907.1H209.3V892.2H212V902.0H245.7V909.2H338.4V902.4H363.5V895.4H512V911.1H139.4Z" fill="#f4f6fb"/><path d="M308.3 891.3V911.1M593.5 891.3V911.1" stroke="#e6e6e6" stroke-width="1" fill="none"/><rect x="324.6" y="891.3" width="93.6" height="19.8" fill="rgba(102,133,194,0.3)"/><path d="M139.4 909.2H149.1V907.1H209.3V892.2H212V902.0H245.7V909.2H338.4V902.4H363.5V895.4H512" stroke="#4572ae" stroke-width="1.3" fill="none"/><path d="M124.0 891.6H620.0" stroke="#cccccc" stroke-width="1" fill="none"/><rect x="320.3" y="892.3" width="9.0" height="16.9" rx="1.2" fill="#f2f2f2" stroke="#999" stroke-width="1"/><path d="M323.6 896.6V904.9M326.0 896.6V904.9" stroke="#999" stroke-width="1" fill="none"/><rect x="413.6" y="892.3" width="9.1" height="16.9" rx="1.2" fill="#f2f2f2" stroke="#999" stroke-width="1"/><path d="M416.9 896.6V904.9M419.3 896.6V904.9" stroke="#999" stroke-width="1" fill="none"/><rect x="124" y="911.2" width="496.0" height="15.7" fill="#f2f2f2"/><rect x="324.4" y="911.2" width="94.6" height="15.7" fill="#cccccc"/><path d="M369.0 916.0V922.0M372.0 916.0V922.0M375.0 916.0V922.0" stroke="#333" stroke-width="1.1" fill="none"/><rect x="124.0" y="911.2" width="15.0" height="15.7" fill="#e6e6e6"/><path d="M124.0 911.7H138.5V926.4H124.0" stroke="#cccccc" stroke-width="1" fill="none"/><path d="M133.2 916.0V923.0L129.1 919.5Z" fill="#333"/><rect x="603.6" y="911.2" width="16.3" height="15.7" fill="#e6e6e6"/><rect x="604.1" y="911.7" width="15.3" height="14.7" stroke="#cccccc" stroke-width="1" fill="none"/><path d="M610.4 916.0V923.0L614.5 919.5Z" fill="#333"/></svg><svg style="left:725.0px;top:47.3px" width="510" height="270" viewBox="735 380 510 270"><rect x="757.1" y="388.1" width="479.0" height="16.5" fill="#ff9f9f"/><rect x="757.1" y="404.6" width="479.0" height="150.2" fill="#edf9ae"/><rect x="757.1" y="554.8" width="479.0" height="15.7" fill="#adfdad"/><path d="M757.1 388.3H1236.1M757.1 404.6H1236.1M757.1 554.8H1236.1" stroke="#e2e2e2" stroke-opacity=".75" stroke-width="1" fill="none"/><text x="768.4" y="402.1" font-family="DejaVu Sans, sans-serif" font-size="12" fill="#606060" textLength="53.8" lengthAdjust="spacing">1.00E-05</text><text x="768.4" y="552.0" font-family="DejaVu Sans, sans-serif" font-size="12" fill="#606060" textLength="53.8" lengthAdjust="spacing">1.00E-06</text><text x="765.7" y="568.2" font-family="DejaVu Sans, sans-serif" font-size="12" fill="#606060" textLength="56.8" lengthAdjust="spacing">0.00E+00</text><text x="751.2" y="479.5" font-family="DejaVu Sans, sans-serif" font-size="12" fill="#666" text-anchor="middle" textLength="140.5" lengthAdjust="spacing" transform="rotate(-90 751.2 479.5)">Cumulative Risk Value</text><path d="M757.1 570.8H1236.1" stroke="#ccd6eb" stroke-width="1" fill="none"/><text x="764.9" y="591.0" font-family="DejaVu Sans, sans-serif" font-size="11.5" fill="#666" text-anchor="middle">7. Oct</text><text x="876.8" y="591.0" font-family="DejaVu Sans, sans-serif" font-size="11.5" fill="#666" text-anchor="middle">14. Oct</text><text x="988.7" y="591.0" font-family="DejaVu Sans, sans-serif" font-size="11.5" fill="#666" text-anchor="middle">21. Oct</text><text x="1100.6" y="591.0" font-family="DejaVu Sans, sans-serif" font-size="11.5" fill="#666" text-anchor="middle">28. Oct</text><text x="1212.5" y="591.0" font-family="DejaVu Sans, sans-serif" font-size="11.5" fill="#666" text-anchor="middle">4. Nov</text><path d="M764.4 570.5V580.9M876.3 570.5V580.9M988.2 570.5V580.9M1100.1 570.5V580.9M1212.0 570.5V580.9" stroke="#ccd6eb" stroke-width="1" fill="none"/><clipPath id="cp0"><rect x="757.1" y="388.1" width="479.0" height="182.4"/></clipPath><path d="M757.1 570.3H952.4L997 538" stroke="#6fa8ee" stroke-width="2.2" fill="none" stroke-linejoin="round" clip-path="url(#cp0)"/><path d="M997 538L1206.5 388.1" stroke="#333333" stroke-width="2.2" stroke-dasharray="17.6 6.6" fill="none"/><rect x="996" y="388.6" width="2.1" height="181.4" fill="#ff0000"/><path d="M845.3 608.0V628.2M1028.2 608.0V628.2M1210.7 608.0V628.2" stroke="#e6e6e6" stroke-width="1" fill="none"/><text x="849.2" y="622.8" font-family="DejaVu Sans, sans-serif" font-size="11" fill="#999" textLength="41.7" lengthAdjust="spacing">Sep '24</text><text x="1032.4" y="622.8" font-family="DejaVu Sans, sans-serif" font-size="11" fill="#999" textLength="43.1" lengthAdjust="spacing">Nov '24</text><rect x="951.2" y="608.0" width="90.2" height="20.2" fill="rgba(102,133,194,0.3)"/><path d="M772.4 627.4H840.3L841.6 616.0L842.8 627.4H988.9L997.4 609.0" stroke="#6fa8ee" stroke-width="1" fill="none"/><path d="M757.1 608.3H1236.1" stroke="#cccccc" stroke-width="1" fill="none"/><rect x="946.5" y="609.3" width="9.2" height="16.9" rx="1.2" fill="#f2f2f2" stroke="#999" stroke-width="1"/><path d="M949.9 613.6V621.9M952.3 613.6V621.9" stroke="#999" stroke-width="1" fill="none"/><rect x="1036.8" y="609.3" width="9.1" height="16.9" rx="1.2" fill="#f2f2f2" stroke="#999" stroke-width="1"/><path d="M1040.1 613.6V621.9M1042.5 613.6V621.9" stroke="#999" stroke-width="1" fill="none"/><rect x="756.2" y="628.2" width="479.9" height="15.9" fill="#f2f2f2"/><rect x="951.1" y="628.2" width="90.9" height="15.9" fill="#cccccc"/><path d="M993.8 633.2V639.2M996.8 633.2V639.2M999.8 633.2V639.2" stroke="#333" stroke-width="1.1" fill="none"/><rect x="756.2" y="628.2" width="16.1" height="15.9" fill="#e6e6e6"/><rect x="756.7" y="628.7" width="15.1" height="14.9" stroke="#cccccc" stroke-width="1" fill="none"/><path d="M766.0 633.2V640.2L761.9 636.7Z" fill="#333"/><rect x="1220.4" y="628.2" width="15.7" height="15.9" fill="#e6e6e6"/><rect x="1220.9" y="628.7" width="14.7" height="14.9" stroke="#cccccc" stroke-width="1" fill="none"/><path d="M1226.8 633.2V640.2L1231.0 636.7Z" fill="#333"/></svg><svg style="left:725.0px;top:330.3px" width="510" height="270" viewBox="735 663 510 270"><rect x="757.1" y="670.8" width="479.0" height="16.6" fill="#ff9f9f"/><rect x="757.1" y="687.4" width="479.0" height="150.1" fill="#f9f9b0"/><rect x="757.1" y="837.5" width="479.0" height="16.0" fill="#adfdad"/><path d="M757.1 671.0H1236.1M757.1 687.4H1236.1M757.1 837.5H1236.1" stroke="#e2e2e2" stroke-opacity=".75" stroke-width="1" fill="none"/><text x="768.4" y="684.9" font-family="DejaVu Sans, sans-serif" font-size="12" fill="#606060" textLength="53.8" lengthAdjust="spacing">1.00E-05</text><text x="768.4" y="834.9" font-family="DejaVu Sans, sans-serif" font-size="12" fill="#606060" textLength="53.8" lengthAdjust="spacing">1.00E-06</text><text x="765.7" y="850.9" font-family="DejaVu Sans, sans-serif" font-size="12" fill="#606060" textLength="56.8" lengthAdjust="spacing">0.00E+00</text><text x="751.2" y="762.4" font-family="DejaVu Sans, sans-serif" font-size="12" fill="#666" text-anchor="middle" textLength="140.5" lengthAdjust="spacing" transform="rotate(-90 751.2 762.4)">Cumulative Risk Value</text><path d="M757.1 853.8H1236.1" stroke="#ccd6eb" stroke-width="1" fill="none"/><text x="764.9" y="874.0" font-family="DejaVu Sans, sans-serif" font-size="11.5" fill="#666" text-anchor="middle">7. Oct</text><text x="876.8" y="874.0" font-family="DejaVu Sans, sans-serif" font-size="11.5" fill="#666" text-anchor="middle">14. Oct</text><text x="988.7" y="874.0" font-family="DejaVu Sans, sans-serif" font-size="11.5" fill="#666" text-anchor="middle">21. Oct</text><text x="1100.6" y="874.0" font-family="DejaVu Sans, sans-serif" font-size="11.5" fill="#666" text-anchor="middle">28. Oct</text><text x="1212.5" y="874.0" font-family="DejaVu Sans, sans-serif" font-size="11.5" fill="#666" text-anchor="middle">4. Nov</text><path d="M764.4 853.5V863.9M876.3 853.5V863.9M988.2 853.5V863.9M1100.1 853.5V863.9M1212.0 853.5V863.9" stroke="#ccd6eb" stroke-width="1" fill="none"/><clipPath id="cp283"><rect x="757.1" y="670.8" width="479.0" height="182.7"/></clipPath><path d="M757.1 853.3H952.6L997 824.4" stroke="#6fa8ee" stroke-width="2.2" fill="none" stroke-linejoin="round" clip-path="url(#cp283)"/><path d="M997 824.4L1236 672.6" stroke="#333333" stroke-width="2.2" stroke-dasharray="17.6 6.6" fill="none"/><rect x="996" y="671.3" width="2.1" height="181.7" fill="#ff0000"/><path d="M845.3 891.0V911.2M1028.2 891.0V911.2M1210.7 891.0V911.2" stroke="#e6e6e6" stroke-width="1" fill="none"/><text x="849.2" y="905.8" font-family="DejaVu Sans, sans-serif" font-size="11" fill="#999" textLength="41.7" lengthAdjust="spacing">Sep '24</text><text x="1032.4" y="905.8" font-family="DejaVu Sans, sans-serif" font-size="11" fill="#999" textLength="43.1" lengthAdjust="spacing">Nov '24</text><rect x="951.2" y="891.0" width="90.2" height="20.2" fill="rgba(102,133,194,0.3)"/><path d="M772.4 910.4H840.3L841.6 899.0L842.8 910.4H988.9L997.4 892.0" stroke="#6fa8ee" stroke-width="1" fill="none"/><path d="M757.1 891.3H1236.1" stroke="#cccccc" stroke-width="1" fill="none"/><rect x="946.5" y="892.3" width="9.2" height="16.9" rx="1.2" fill="#f2f2f2" stroke="#999" stroke-width="1"/><path d="M949.9 896.6V904.9M952.3 896.6V904.9" stroke="#999" stroke-width="1" fill="none"/><rect x="1036.8" y="892.3" width="9.1" height="16.9" rx="1.2" fill="#f2f2f2" stroke="#999" stroke-width="1"/><path d="M1040.1 896.6V904.9M1042.5 896.6V904.9" stroke="#999" stroke-width="1" fill="none"/><rect x="756.2" y="911.2" width="479.9" height="15.9" fill="#f2f2f2"/><rect x="951.1" y="911.2" width="90.9" height="15.9" fill="#cccccc"/><path d="M993.8 916.2V922.2M996.8 916.2V922.2M999.8 916.2V922.2" stroke="#333" stroke-width="1.1" fill="none"/><rect x="756.2" y="911.2" width="16.1" height="15.9" fill="#e6e6e6"/><rect x="756.7" y="911.7" width="15.1" height="14.9" stroke="#cccccc" stroke-width="1" fill="none"/><path d="M766.0 916.2V923.2L761.9 919.7Z" fill="#333"/><rect x="1220.4" y="911.2" width="15.7" height="15.9" fill="#e6e6e6"/><rect x="1220.9" y="911.7" width="14.7" height="14.9" stroke="#cccccc" stroke-width="1" fill="none"/><path d="M1226.8 916.2V923.2L1231.0 919.7Z" fill="#333"/></svg><div class="btn" style="left:61.0px;top:173.3px;width:36.0px;height:26.0px;"></div><span class="t" style="left:70.3px;top:176.2px;font-size:13.65px;line-height:19px;color:#5f636c;transform:scaleX(0.9491);">CD</span><div class="btn" style="left:50.0px;top:456.3px;width:47.0px;height:26.0px;"></div><span class="t" style="left:59.4px;top:459.2px;font-size:13.65px;line-height:19px;color:#5f636c;transform:scaleX(0.8459);">LERF</span><div class="btn" style="left:677.0px;top:173.3px;width:36.0px;height:26.0px;"></div><span class="t" style="left:685.9px;top:176.2px;font-size:13.65px;line-height:19px;color:#5f636c;transform:scaleX(0.9389);">CD</span><div class="btn" style="left:666.0px;top:456.3px;width:47.0px;height:26.0px;"></div><span class="t" style="left:675.1px;top:459.2px;font-size:13.65px;line-height:19px;color:#5f636c;transform:scaleX(0.8545);">LERF</span></main>
</body></html>
